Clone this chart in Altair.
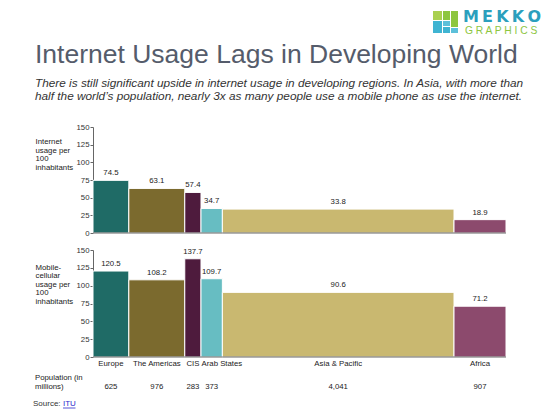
import altair as alt
import pandas as pd

# ---------------- data ----------------
regions = ["Europe", "The Americas", "CIS", "Arab States", "Asia & Pacific", "Africa"]
population = [625, 976, 283, 373, 4041, 907]          # millions
internet = [74.5, 63.1, 57.4, 34.7, 33.8, 18.9]       # per 100 inhabitants
mobile = [120.5, 108.2, 137.7, 109.7, 90.6, 71.2]     # per 100 inhabitants
colors = ["#1f6b66", "#7b6a2e", "#4e1b3d", "#67bdc2", "#c9b870", "#8c4a6d"]
y_ticks = [0, 25, 50, 75, 100, 125, 150]

title_text = "Internet Usage Lags in Developing World"
subtitle_lines = [
    "There is still significant upside in internet usage in developing regions. In Asia, with more than",
    "half the world\u2019s population, nearly 3x as many people use a mobile phone as use the internet.",
]
top_axis_title = ["Internet", "usage per", "100", "inhabitants"]
bottom_axis_title = ["Mobile-", "cellular", "usage per", "100", "inhabitants"]
pop_title = ["Population (in", "millions)"]

# ---------------- table ----------------
starts, ends = [], []
acc = 0
for p in population:
    starts.append(acc)
    acc += p
    ends.append(acc)
total = acc

df = pd.DataFrame({
    "region": regions,
    "pop": population,
    "start": starts,
    "end": ends,
    "mid": [(s + e) / 2 for s, e in zip(starts, ends)],
    "internet": internet,
    "mobile": mobile,
    "pop_label": [f"{p:,}" for p in population],
    "zero": [0] * len(regions),
})

FONT = "Liberation Sans"
FS = 7.8
xscale = alt.Scale(domain=[0, total], nice=False, zero=False)
color = alt.Color("region:N", scale=alt.Scale(domain=regions, range=colors), legend=None)
top_scale = alt.Scale(domain=[0, 150], range=[106, 0], nice=False)
bot_scale = alt.Scale(domain=[0, 150], range=[230, 123], nice=False)

yaxis = dict(orient="left", values=y_ticks, titleAngle=0, titleAlign="left",
             titleBaseline="top", titleX=-58, titleLineHeight=8.6)

base = alt.Chart(df)

# ---------------- top panel (internet) ----------------
top_bars = base.mark_rect(stroke="white", strokeWidth=1).encode(
    x=alt.X("start:Q", scale=xscale, axis=alt.Axis(
        orient="bottom", labels=False, ticks=False, title=None)),
    x2="end:Q",
    y=alt.Y("internet:Q", scale=top_scale,
            axis=alt.Axis(title=top_axis_title, titleY=10.5, **yaxis)),
    y2="zero:Q",
    color=color,
)
top_base = base.mark_rule(color="#666", strokeWidth=1).encode(
    x=alt.X("start:Q", axis=None), x2="end:Q",
    y=alt.Y("zero:Q", scale=top_scale, axis=None),
)
top_labels = base.mark_text(baseline="bottom", dy=-3, fontSize=FS, font=FONT, color="#222").encode(
    x=alt.X("mid:Q", axis=None),
    y=alt.Y("internet:Q", scale=top_scale, axis=None),
    text=alt.Text("internet:Q", format=".1f"),
)

# ---------------- bottom panel (mobile) ----------------
bot_bars = base.mark_rect(stroke="white", strokeWidth=1).encode(
    x=alt.X("start:Q", axis=None),
    x2="end:Q",
    y=alt.Y("mobile:Q", scale=bot_scale,
            axis=alt.Axis(title=bottom_axis_title, titleY=136, **yaxis)),
    y2="zero:Q",
    color=color,
)
bot_base = base.mark_rule(color="#666", strokeWidth=1).encode(
    x=alt.X("start:Q", axis=None), x2="end:Q",
    y=alt.Y("zero:Q", scale=bot_scale, axis=None),
)
bot_labels = base.mark_text(baseline="bottom", dy=-3, fontSize=FS, font=FONT, color="#222").encode(
    x=alt.X("mid:Q", axis=None),
    y=alt.Y("mobile:Q", scale=bot_scale, axis=None),
    text=alt.Text("mobile:Q", format=".1f"),
)
cat_labels = base.transform_filter("datum.region != 'Arab States'").mark_text(
    baseline="middle", dy=7, fontSize=FS, font=FONT, color="#222").encode(
    x=alt.X("mid:Q", axis=None), y=alt.Y("zero:Q", scale=bot_scale, axis=None), text="region:N",
)
arab_label = base.transform_filter("datum.region == 'Arab States'").mark_text(
    baseline="middle", align="left", dy=7, dx=0.5, fontSize=FS, font=FONT, color="#222").encode(
    x=alt.X("start:Q", axis=None), y=alt.Y("zero:Q", scale=bot_scale, axis=None), text="region:N",
)
pop_labels = base.mark_text(baseline="middle", dy=30, fontSize=FS, font=FONT, color="#222").encode(
    x=alt.X("mid:Q", axis=None), y=alt.Y("zero:Q", scale=bot_scale, axis=None), text="pop_label:N",
)

# ---------------- decorations ----------------
one = pd.DataFrame({"k": [0]})


def txt(text, x, y, **kw):
    return alt.Chart(one).mark_text(align="left", baseline="alphabetic", **kw).encode(
        x=alt.value(x), y=alt.value(y), text=alt.value(text))


def box(x, x2, y, y2, fill, opacity=1):
    return alt.Chart(one).mark_rect(color=fill, opacity=opacity).encode(
        x=alt.value(x), x2=alt.value(x2), y=alt.value(y), y2=alt.value(y2))


# invisible frame pinning the full page extent (plot origin at 85,119 inside the 544x404 page)
pin = box(-85, 459, -119, 285, "white", opacity=0)

title = txt(title_text, -58, -64, fontSize=26.5, font=FONT, color="#555c6b")
subtitle = txt(subtitle_lines, -58, -40, fontSize=11.8, font=FONT, fontStyle="italic",
               color="#333", lineHeight=12.6)
logo = [
    box(340, 349, -116, -107, "#a9d04f"),
    box(350, 357, -116, -107, "#8dc63f"),
    box(358, 365, -116, -100, "#8dc63f"),
    box(340, 349, -106, -94, "#3fb4d2"),
    box(350, 357, -106, -101, "#5cc0da"),
    box(350, 357, -100, -94, "#3fb4d2"),
    box(358, 365, -99, -94, "#5cc0da"),
    txt("M\u2009E\u2009K\u2009K\u2009O", 370, -105, fontSize=16, font="DejaVu Sans",
        fontWeight="bold", color="#2b9fbd"),
    txt("G R A P H I C S", 372, -93, fontSize=10.3, font=FONT, color="#8dc63f"),
]
pop_text = txt(pop_title, -58, 253, fontSize=FS, font=FONT, color="#222", lineHeight=9)
source = txt("Source:", -60, 279, fontSize=8, font=FONT, color="#333")
itu = txt("ITU", -30, 279, fontSize=8, font=FONT, color="#2a2acc")
itu_line = alt.Chart(one).mark_rule(color="#2a2acc", strokeWidth=0.8).encode(
    x=alt.value(-30), x2=alt.value(-17.5), y=alt.value(281), y2=alt.value(281))

chart = alt.layer(
    pin, top_bars, top_base, top_labels,
    bot_bars, bot_base, bot_labels, cat_labels, arab_label, pop_labels,
    title, subtitle, *logo, pop_text, source, itu, itu_line,
).resolve_scale(y="independent").resolve_axis(y="independent").properties(
    width=413, height=230,
    padding=0,
).configure(font=FONT).configure_view(stroke=None).configure_axis(
    grid=False, labelFont=FONT, labelFontSize=FS, labelColor="#333", labelPadding=1,
    titleFont=FONT, titleFontSize=FS, titleFontWeight="normal", titleColor="#222",
    domainColor="#666", tickColor="#666", tickSize=3,
)

chart.save("out.html", embed_options={"renderer": "svg", "actions": False})
